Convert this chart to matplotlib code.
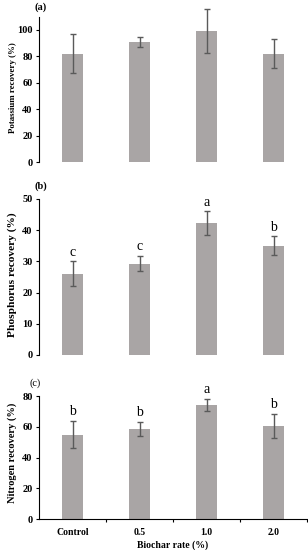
import matplotlib
matplotlib.use("Agg")
import matplotlib.pyplot as plt
import numpy as np

plt.rcParams['font.family'] = ['Liberation Serif', 'DejaVu Serif']

# data
categories = ['Control', '0.5', '1.0', '2.0']
potassium = [82, 91, 99, 82]
potassium_err = [15, 4, 16.5, 11]
phosphorus = [26, 29.3, 42.3, 35]
phosphorus_err = [4, 2.5, 3.7, 3]
phosphorus_letters = ['c', 'c', 'a', 'b']
nitrogen = [55, 58.5, 74, 60.5]
nitrogen_err = [8.8, 4.7, 4, 8]
nitrogen_letters = ['b', 'b', 'a', 'b']

bar_color = '#a9a5a5'
err_color = '#5a5a5a'

W, H = 308, 550
fig = plt.figure(figsize=(W / 100, H / 100), dpi=100)


def make_axes(top_px, bottom_px):
    left, right = 39, 307
    return fig.add_axes([left / W, 1 - bottom_px / H, (right - left) / W,
                         (bottom_px - top_px) / H])


def draw_panel(ax, values, errs, ylim, yticks, letters=None, show_x=False):
    x = np.arange(len(values))
    ax.bar(x, values, width=0.31, color=bar_color, zorder=2)
    ax.errorbar(x, values, yerr=errs, fmt='none', ecolor=err_color,
                elinewidth=1, capsize=2, capthick=1, zorder=3, clip_on=False)
    ax.set_xlim(-0.5, 3.5)
    ax.set_ylim(*ylim)
    ax.set_yticks(yticks)
    ax.tick_params(axis='y', direction='out', length=2.5, width=0.8, pad=2,
                   labelsize=7.5)
    for lab in ax.get_yticklabels():
        lab.set_fontweight('bold')
    ax.spines['top'].set_visible(False)
    ax.spines['right'].set_visible(False)
    ax.spines['left'].set_linewidth(0.8)
    if letters:
        for xi, v, e, t in zip(x, values, errs, letters):
            ax.annotate(t, (xi, v + e), xytext=(0, 2), textcoords='offset points',
                        ha='center', va='bottom', fontsize=10, annotation_clip=False)
    if show_x:
        ax.spines['bottom'].set_linewidth(0.8)
        ax.set_xticks(x)
        ax.set_xticklabels(categories, fontweight='bold', fontsize=7)
        ax.tick_params(axis='x', which='major', length=0, pad=6.5)
        ax.set_xticks([0.5, 1.5, 2.5, 3.5], minor=True)
        ax.tick_params(axis='x', which='minor', direction='out', length=2.5,
                       width=0.8)
    else:
        ax.spines['bottom'].set_visible(False)
        ax.set_xticks([])


ax_a = make_axes(16.7, 162)
draw_panel(ax_a, potassium, potassium_err, (0, 110), range(0, 101, 20))

ax_b = make_axes(199, 355)
draw_panel(ax_b, phosphorus, phosphorus_err, (0, 50), range(0, 51, 10),
           letters=phosphorus_letters)

ax_c = make_axes(396, 519.3)
draw_panel(ax_c, nitrogen, nitrogen_err, (0, 80), range(0, 81, 20),
           letters=nitrogen_letters, show_x=True)
ax_c.set_xlabel('Biochar rate (%)', fontweight='bold', fontsize=7, labelpad=2)

# y labels
fig.text(13 / W, 1 - 88 / H, 'Potassium recovery (%)', rotation=90,
         ha='center', va='center', fontweight='bold', fontsize=6.4)
fig.text(12 / W, 1 - 274.5 / H, 'Phosphorus recovery (%)', rotation=90,
         ha='center', va='center', fontweight='bold', fontsize=8.2)
fig.text(12 / W, 1 - 452.5 / H, 'Nitrogen recovery (%)', rotation=90,
         ha='center', va='center', fontweight='bold', fontsize=7.5)

# panel tags
fig.text(41 / W, 1 - 7 / H, '(a)', ha='center', va='center',
         fontweight='bold', fontsize=7.4)
fig.text(41 / W, 1 - 186 / H, '(b)', ha='center', va='center',
         fontweight='bold', fontsize=7.4)
fig.text(35 / W, 1 - 383.5 / H, '(c)', ha='center', va='center', fontsize=7.4)

fig.savefig('out.png', dpi=100)
